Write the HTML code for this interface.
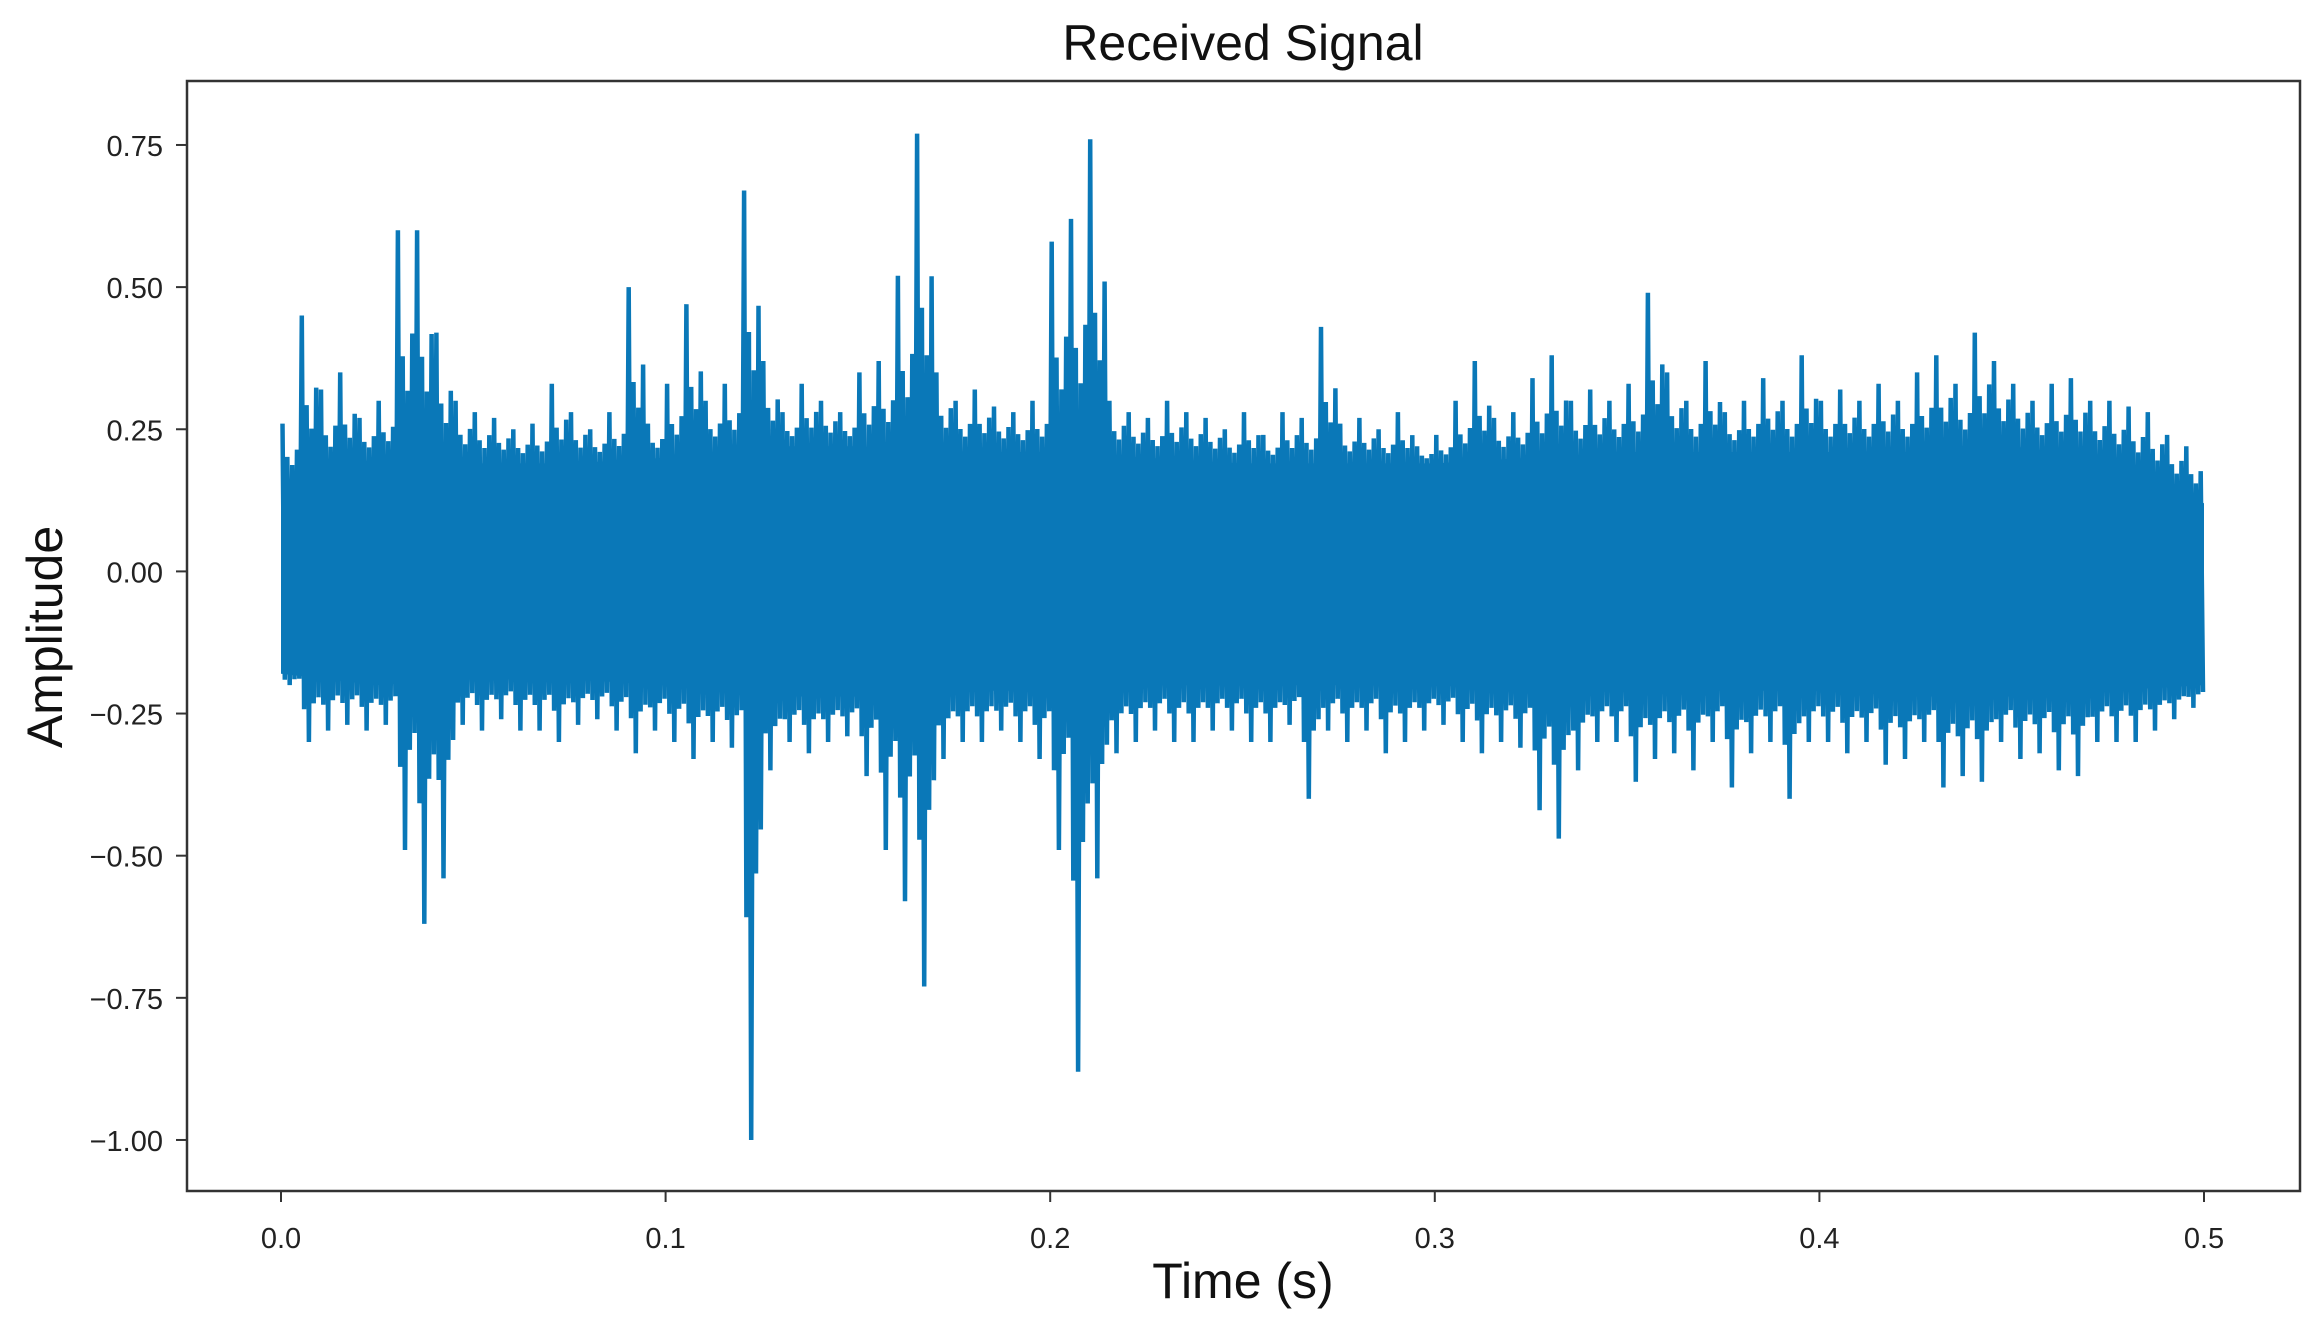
<!DOCTYPE html>
<html><head><meta charset="utf-8"><style>
html,body{margin:0;padding:0;background:#fff;}
svg{display:block;font-family:"Liberation Sans","DejaVu Sans",sans-serif;}
</style></head><body>
<svg id="chart" width="2322" height="1328" viewBox="0 0 2322 1328" xmlns="http://www.w3.org/2000/svg">
<rect width="2322" height="1328" fill="#fff"/>
<text x="1243" y="60" font-size="50" text-anchor="middle" fill="#111">Received Signal</text>
<text x="1243" y="1298" font-size="50" text-anchor="middle" fill="#111">Time (s)</text>
<text transform="translate(62,637) rotate(-90)" font-size="50" text-anchor="middle" fill="#111">Amplitude</text>
<g id="plot"></g>
<g id="axes"></g>
</svg>
<script>
const xTicks = [0.0, 0.1, 0.2, 0.3, 0.4, 0.5];
const xTickLabels = ["0.0","0.1","0.2","0.3","0.4","0.5"];
const yTicks = [0.75, 0.5, 0.25, 0, -0.25, -0.5, -0.75, -1.0];
const yTickLabels = ["0.75","0.50","0.25","0.00","\u22120.25","\u22120.50","\u22120.75","\u22121.00"];
const binWidth = 0.005;
const binMax = [0.26,0.45,0.32,0.35,0.27,0.30,0.60,0.60,0.42,0.30,
0.28,0.27,0.25,0.26,0.33,0.28,0.25,0.28,0.50,0.26,
0.33,0.47,0.30,0.33,0.67,0.37,0.28,0.33,0.30,0.28,
0.35,0.37,0.52,0.77,0.35,0.30,0.32,0.29,0.28,0.30,
0.58,0.62,0.76,0.30,0.28,0.27,0.30,0.28,0.27,0.25,
0.28,0.24,0.28,0.27,0.43,0.26,0.27,0.25,0.28,0.22,
0.24,0.30,0.37,0.27,0.28,0.34,0.38,0.30,0.32,0.30,
0.33,0.49,0.35,0.30,0.37,0.28,0.30,0.34,0.30,0.38,
0.30,0.32,0.30,0.33,0.30,0.35,0.38,0.33,0.42,0.37,
0.33,0.30,0.33,0.34,0.30,0.30,0.29,0.28,0.24,0.22];
const binMin = [-0.20,-0.30,-0.28,-0.27,-0.28,-0.27,-0.49,-0.62,-0.54,-0.27,
-0.28,-0.26,-0.28,-0.28,-0.30,-0.27,-0.26,-0.28,-0.32,-0.28,
-0.30,-0.33,-0.30,-0.31,-1.00,-0.35,-0.30,-0.32,-0.30,-0.29,
-0.36,-0.49,-0.58,-0.73,-0.33,-0.30,-0.30,-0.28,-0.30,-0.33,
-0.49,-0.88,-0.54,-0.32,-0.30,-0.28,-0.30,-0.30,-0.28,-0.28,
-0.30,-0.30,-0.27,-0.40,-0.28,-0.30,-0.28,-0.32,-0.30,-0.28,
-0.27,-0.30,-0.32,-0.30,-0.31,-0.42,-0.47,-0.35,-0.30,-0.30,
-0.37,-0.33,-0.32,-0.35,-0.30,-0.38,-0.32,-0.30,-0.40,-0.30,
-0.30,-0.32,-0.30,-0.34,-0.33,-0.30,-0.38,-0.36,-0.37,-0.30,
-0.33,-0.32,-0.35,-0.36,-0.30,-0.30,-0.30,-0.28,-0.26,-0.24];
const bandTimes = [0,0.025,0.05,0.075,0.1,0.125,0.15,0.175,0.2,0.225,0.25,0.275,0.3,0.325,0.35,0.375,0.4,0.425,0.45,0.475,0.5];
const bandHi = [0.15,0.20,0.19,0.19,0.20,0.22,0.22,0.21,0.21,0.20,0.19,0.19,0.19,0.20,0.21,0.21,0.21,0.21,0.22,0.20,0.12];
const bandLo = [-0.18,-0.20,-0.19,-0.19,-0.20,-0.22,-0.22,-0.21,-0.21,-0.20,-0.20,-0.20,-0.20,-0.21,-0.21,-0.21,-0.21,-0.22,-0.22,-0.21,-0.20];

const L=187,R=2300,T=81,B=1191;
function xs(t){ return 281 + (t-0)*(2204-281)/0.5; }
function ys(v){ return 571.4 - v*(1140-145)/1.75; }
function bandAt(arr,t){
  for(let i=0;i<bandTimes.length-1;i++){ if(t<=bandTimes[i+1]){ const f=(t-bandTimes[i])/(bandTimes[i+1]-bandTimes[i]); return arr[i]+(arr[i+1]-arr[i])*f; } }
  return arr[arr.length-1];
}
const NS="http://www.w3.org/2000/svg";
const plot=document.getElementById('plot'), axes=document.getElementById('axes');
const col="#0a78b8";

let d="";
bandTimes.forEach((t,i)=>{ d+=(i?"L":"M")+xs(t).toFixed(1)+","+ys(bandHi[i]).toFixed(1); });
for(let i=bandTimes.length-1;i>=0;i--){ d+="L"+xs(bandTimes[i]).toFixed(1)+","+ys(bandLo[i]).toFixed(1); }
d+="Z";
const band=document.createElementNS(NS,'path');


band.setAttribute('d',d); band.setAttribute('fill',col);
plot.appendChild(band);

// spikes: per bin, main max/min plus intermediate spikes between band edge and bin extreme
let z="";
binMax.forEach((mx,i)=>{
  const mn=binMin[i];
  const subs=[[0.08,mx,1],[0.2,mn,0.5],[0.33,mx,0.45],[0.45,mn,1],[0.58,mx,0.3],[0.7,mn,0.4],[0.83,mx,0.55],[0.95,mn,0.3]];
  subs.forEach((s,k)=>{
    const t=(i+s[0])*binWidth;
    const edge = s[1]>0 ? bandAt(bandHi,t) : bandAt(bandLo,t);
    const v = edge + (s[1]-edge)*s[2];
    z+=((i||k)?"L":"M")+xs(t).toFixed(1)+","+ys(v).toFixed(1);
  });
});
const sig=document.createElementNS(NS,'path');


sig.setAttribute('d',z); sig.setAttribute('fill','none'); sig.setAttribute('stroke',col);
sig.setAttribute('stroke-width','4.5'); sig.setAttribute('stroke-linejoin','miter');
plot.appendChild(sig);

const fr=document.createElementNS(NS,'rect');


fr.setAttribute('x',L); fr.setAttribute('y',T); fr.setAttribute('width',R-L); fr.setAttribute('height',B-T);
fr.setAttribute('fill','none'); fr.setAttribute('stroke','#333'); fr.setAttribute('stroke-width','2.5');
axes.appendChild(fr);

xTicks.forEach((t,i)=>{
  const x=xs(t);
  const tk=document.createElementNS(NS,'line');
  
  
  tk.setAttribute('x1',x);tk.setAttribute('x2',x);tk.setAttribute('y1',B);tk.setAttribute('y2',B+11);
  tk.setAttribute('stroke','#333');tk.setAttribute('stroke-width','2');
  axes.appendChild(tk);
  const tx=document.createElementNS(NS,'text');
  
  
  tx.setAttribute('x',x);tx.setAttribute('y',B+57);tx.setAttribute('font-size','29');
  tx.setAttribute('text-anchor','middle');tx.setAttribute('fill','#222');
  tx.textContent=xTickLabels[i];
  axes.appendChild(tx);
});
yTicks.forEach((v,i)=>{
  const y=ys(v);
  const tk=document.createElementNS(NS,'line');
  
  
  tk.setAttribute('x1',L-11);tk.setAttribute('x2',L);tk.setAttribute('y1',y);tk.setAttribute('y2',y);
  tk.setAttribute('stroke','#333');tk.setAttribute('stroke-width','2');
  axes.appendChild(tk);
  const tx=document.createElementNS(NS,'text');
  
  
  tx.setAttribute('x',L-24);tx.setAttribute('y',y+11);tx.setAttribute('font-size','29');
  tx.setAttribute('text-anchor','end');tx.setAttribute('fill','#222');
  tx.textContent=yTickLabels[i];
  axes.appendChild(tx);
});
</script>
</body></html>
